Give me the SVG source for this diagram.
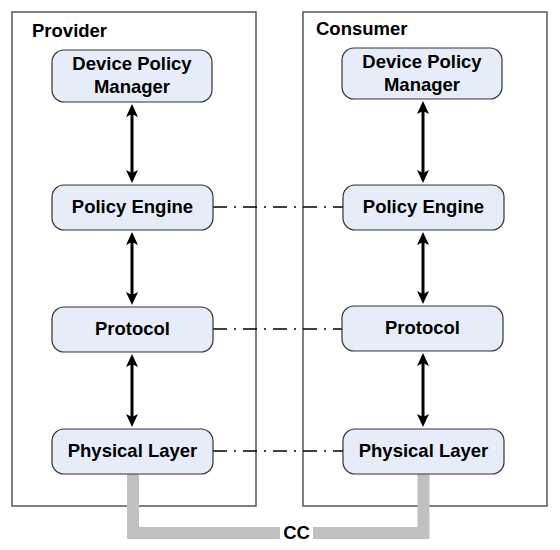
<svg xmlns="http://www.w3.org/2000/svg" width="560" height="550" viewBox="0 0 560 550">
<defs>
<style>
.frame{fill:#fff;stroke:#555;stroke-width:1.5}
.box{fill:#E6EDF8;stroke:#333;stroke-width:1.2}
.lbl{font-family:"Liberation Sans",Arial,sans-serif;font-weight:bold;font-size:18.5px;fill:#000}
.ctr{text-anchor:middle}
.arr{stroke:#000;stroke-width:3;fill:none;marker-start:url(#ah);marker-end:url(#ah)}
.dd{stroke:#000;stroke-width:1.5;fill:none;stroke-dasharray:14 7 2 7}
.cc{stroke:#C0C0C0;stroke-width:12;fill:none}
</style>
<marker id="ah" viewBox="0 -6 13 12" refX="3" refY="0" markerWidth="13" markerHeight="12" markerUnits="userSpaceOnUse" orient="auto-start-reverse">
<path d="M13,0 L0,-6 L3,0 L0,6 Z" fill="#000"/>
</marker>
</defs>
<rect width="560" height="550" fill="#fff"/>
<g id="provider">
<rect class="frame" x="12" y="12" width="244" height="494"/>
<text class="lbl" x="32" y="37">Provider</text>
</g>
<g id="consumer">
<rect class="frame" x="303" y="12" width="244" height="494"/>
<text class="lbl" x="316" y="35">Consumer</text>
</g>
<g id="connectors">
<path class="cc" d="M133,474 V533 H423.5 V474"/>
<rect x="280" y="524" width="33" height="18" fill="#fff"/>
<text class="lbl ctr" x="296.5" y="539">CC</text>
<line class="dd" x1="213" y1="207" x2="343" y2="207"/>
<line class="dd" x1="213" y1="329" x2="342" y2="329"/>
<line class="dd" x1="213" y1="451" x2="343" y2="451"/>
<line class="arr" x1="132" y1="114" x2="132" y2="173"/>
<line class="arr" x1="132" y1="242" x2="132" y2="295"/>
<line class="arr" x1="132" y1="364" x2="132" y2="417"/>
<line class="arr" x1="423" y1="111" x2="423" y2="173"/>
<line class="arr" x1="423" y1="242" x2="423" y2="294"/>
<line class="arr" x1="423" y1="363" x2="423" y2="417"/>
</g>
<g id="p-dpm">
<rect class="box" x="52" y="50" width="160" height="52" rx="12"/>
<text class="lbl ctr" x="132" y="70">Device Policy</text>
<text class="lbl ctr" x="132" y="93">Manager</text>
</g>
<g id="p-pe">
<rect class="box" x="52" y="185" width="161" height="45" rx="12"/>
<text class="lbl ctr" x="132.5" y="213">Policy Engine</text>
</g>
<g id="p-proto">
<rect class="box" x="52" y="307" width="161" height="45" rx="12"/>
<text class="lbl ctr" x="132.5" y="335">Protocol</text>
</g>
<g id="p-phy">
<rect class="box" x="52" y="429" width="161" height="45" rx="12"/>
<text class="lbl ctr" x="132.5" y="457">Physical Layer</text>
</g>
<g id="c-dpm">
<rect class="box" x="342" y="48" width="160" height="51" rx="12"/>
<text class="lbl ctr" x="422" y="68">Device Policy</text>
<text class="lbl ctr" x="422" y="91">Manager</text>
</g>
<g id="c-pe">
<rect class="box" x="343" y="185" width="161" height="45" rx="12"/>
<text class="lbl ctr" x="423.5" y="213">Policy Engine</text>
</g>
<g id="c-proto">
<rect class="box" x="342" y="306" width="161" height="45" rx="12"/>
<text class="lbl ctr" x="422.5" y="334">Protocol</text>
</g>
<g id="c-phy">
<rect class="box" x="343" y="429" width="161" height="45" rx="12"/>
<text class="lbl ctr" x="423.5" y="457">Physical Layer</text>
</g>
</svg>
